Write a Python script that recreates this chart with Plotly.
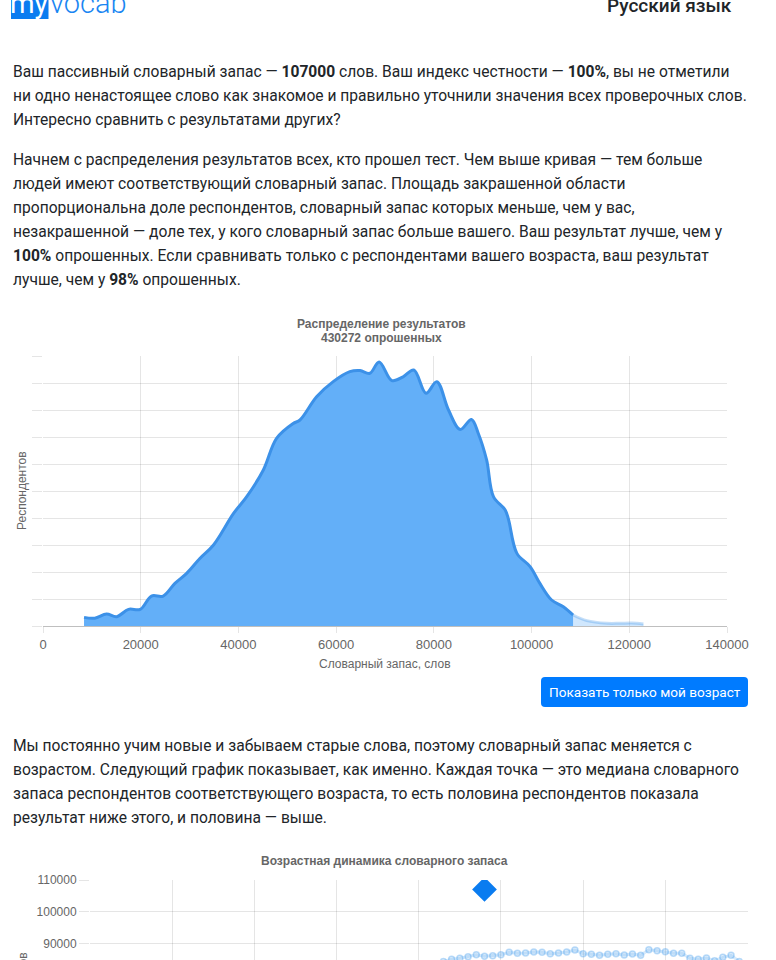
import plotly.graph_objects as go

W, H = 776, 960


def X(px):
    return px / W


def Y(py):
    return 1 - py / H


# ---------------- data ----------------
# Distribution of results (vocabulary size -> respondents, arbitrary units)
vocab_words = [8400, 10600, 13000, 15100, 17500, 19900, 22200, 24600, 27000, 29400,
               32100, 34900, 39000, 41700, 45100, 47800, 51200, 52600, 56000, 59400,
               62800, 64900, 66900, 68800, 71400, 73700, 75900, 78400, 80600, 83000,
               85400, 87700, 89100, 90800, 92200, 94600, 95300, 97000, 99700, 101700,
               104100, 106500, 108500, 111300, 115400, 118100, 120500, 122900]
respondents = [320, 290, 440, 345, 617, 617, 1110, 1110, 1580, 1950,
               2500, 3000, 4170, 4790, 5780, 6950, 7500, 7630, 8490, 9050,
               9420, 9460, 9360, 9780, 9090, 9230, 9480, 8620, 9050, 8000,
               7280, 7650, 7130, 6150, 4790, 4300, 3930, 2690, 2200, 1580,
               963, 715, 407, 200, 100, 100, 110, 75]
shade_limit = 108500
dist_xticks = [0, 20000, 40000, 60000, 80000, 100000, 120000, 140000]

# Age dynamics (age -> median vocabulary)
ages = [43, 44, 45, 46, 47, 48, 49, 50, 51, 52, 53, 54, 55, 56, 57, 58, 59, 60, 61,
        62, 63, 64, 65, 66, 67, 68, 69, 70, 71, 72, 73, 74, 75, 76, 77, 78, 79]
median_vocab = [84300, 84960, 85280, 85780, 86410, 85910, 86100, 86410, 87170, 86860,
                86950, 87270, 87170, 86730, 86950, 87270, 87900, 86730, 86540,
                86220, 86540, 86730, 86320, 86640, 86220, 87990, 87680, 87360, 86860,
                86860, 85280, 84960, 85370, 84520, 85590, 86220, 84300]
user_age = [48]
user_vocab = [107000]
age_yticks = [90000, 100000, 110000]

# ---------------- text ----------------
BODY_FONT = "Roboto"
CHART_FONT = "Liberation Sans"
TXT = "#212529"
GREY = "#666666"

p1 = [
    "Ваш пассивный словарный запас — <b>107000</b> слов. Ваш индекс честности — <b>100%</b>, вы не отметили",
    "ни одно ненастоящее слово как знакомое и правильно уточнили значения всех проверочных слов.",
    "Интересно сравнить с результатами других?",
]
p2 = [
    "Начнем с распределения результатов всех, кто прошел тест. Чем выше кривая — тем больше",
    "людей имеют соответствующий словарный запас. Площадь закрашенной области",
    "пропорциональна доле респондентов, словарный запас которых меньше, чем у вас,",
    "незакрашенной — доле тех, у кого словарный запас больше вашего. Ваш результат лучше, чем у",
    "<b>100%</b> опрошенных. Если сравнивать только с респондентами вашего возраста, ваш результат",
    "лучше, чем у <b>98%</b> опрошенных.",
]
p3 = [
    "Мы постоянно учим новые и забываем старые слова, поэтому словарный запас меняется с",
    "возрастом. Следующий график показывает, как именно. Каждая точка — это медиана словарного",
    "запаса респондентов соответствующего возраста, то есть половина респондентов показала",
    "результат ниже этого, и половина — выше.",
]

fig = go.Figure()

# ---------------- chart 1 ----------------
dark_x = [v for v in vocab_words if v <= shade_limit]
dark_y = [r for v, r in zip(vocab_words, respondents) if v <= shade_limit]
light_x = [v for v in vocab_words if v >= shade_limit]
light_y = [r for v, r in zip(vocab_words, respondents) if v >= shade_limit]

fig.add_trace(go.Scatter(
    x=light_x, y=light_y, mode="lines", fill="tozeroy",
    line=dict(color="rgba(60,145,232,0.3)", width=3, shape="spline", smoothing=1),
    fillcolor="rgba(99,175,248,0.3)", xaxis="x", yaxis="y", hoverinfo="skip"))
fig.add_trace(go.Scatter(
    x=dark_x, y=dark_y, mode="lines", fill="tozeroy",
    line=dict(color="rgb(60,145,232)", width=3, shape="spline", smoothing=1),
    fillcolor="rgb(99,175,248)", xaxis="x", yaxis="y", hoverinfo="skip"))

# ---------------- chart 2 ----------------
fig.add_trace(go.Scatter(
    x=ages, y=median_vocab, mode="lines+markers",
    line=dict(color="rgba(54,150,235,0.2)", width=3),
    marker=dict(size=6, color="rgba(54,150,235,0.15)",
                line=dict(color="rgba(54,150,235,0.32)", width=1.5)),
    xaxis="x2", yaxis="y2", hoverinfo="skip"))
fig.add_trace(go.Scatter(
    x=user_age, y=user_vocab, mode="markers",
    marker=dict(symbol="diamond", size=19, color="#0a7cf0"),
    xaxis="x2", yaxis="y2", hoverinfo="skip"))

grid = "rgba(0,0,0,0.1)"

fig.update_layout(
    template="none",
    width=W, height=H,
    margin=dict(l=0, r=0, t=0, b=0, pad=0, autoexpand=False),
    paper_bgcolor="white", plot_bgcolor="white",
    showlegend=False,
    xaxis=dict(domain=[X(43), X(727)], range=[0, 140000], tickvals=dist_xticks,
               ticktext=[str(t) for t in dist_xticks],
               showgrid=True, gridcolor=grid, gridwidth=1, zeroline=False,
               showline=True, linecolor="rgba(0,0,0,0.25)", linewidth=1,
               ticks="outside", ticklen=6, tickcolor=grid,
               tickfont=dict(family=CHART_FONT, size=13, color=GREY),
               anchor="y", fixedrange=True, automargin=False),
    yaxis=dict(domain=[Y(626), Y(356)], range=[0, 10000], dtick=1000,
               showgrid=True, gridcolor=grid, zeroline=False, showticklabels=False,
               ticks="outside", ticklen=10, tickcolor=grid,
               anchor="x", fixedrange=True, automargin=False),
    xaxis2=dict(domain=[X(90), X(747.5)], range=[0, 80], dtick=10,
                showgrid=True, gridcolor=grid, zeroline=False, showticklabels=False,
                ticks="", anchor="y2", fixedrange=True, automargin=False),
    yaxis2=dict(domain=[0, Y(880)], range=[84740, 110000], tickvals=age_yticks,
                ticktext=[str(t) for t in age_yticks],
                showgrid=True, gridcolor=grid, zeroline=False,
                ticks="outside", ticklen=10, tickcolor=grid,
                tickfont=dict(family=CHART_FONT, size=12, color=GREY),
                anchor="x2", fixedrange=True, automargin=False),
)

ann = []
shapes = []


def line(text, px_x, px_y, size=15.6, color=TXT, family=BODY_FONT, xanchor="left", weight=None, angle=0):
    f = dict(family=family, size=size, color=color)
    if weight is not None:
        f["weight"] = weight
    ann.append(dict(text=text, x=X(px_x), y=Y(px_y), xref="paper", yref="paper",
                    xanchor=xanchor, yanchor="middle", showarrow=False, font=f,
                    textangle=angle))


# header
shapes.append(dict(type="rect", xref="paper", yref="paper",
                   x0=X(11), x1=X(48.5), y0=Y(19), y1=Y(-10),
                   fillcolor="#0a7cf0", line=dict(width=0), layer="below"))
line("my", 29.5, 3, size=28, color="white", xanchor="center", weight=400)
line("vocab", 47.5, 3, size=29, color="#1a86f2", weight=300)
line("Русский язык", 734, 6, size=19, color=TXT, xanchor="right", weight=500)

for i, t in enumerate(p1):
    line(t, 11, 72 + 24 * i)
for i, t in enumerate(p2):
    line(t, 11, 160 + 24 * i)
for i, t in enumerate(p3):
    line(t, 11, 746 + 24 * i)

# chart 1 titles
line("<b>Распределение результатов</b>", 381, 324, size=12, color=GREY, family=CHART_FONT, xanchor="center")
line("<b>430272 опрошенных</b>", 381, 338, size=12, color=GREY, family=CHART_FONT, xanchor="center")
line("Словарный запас, слов", 385, 664, size=12, color=GREY, family=CHART_FONT, xanchor="center")
line("Респондентов", 22, 491, size=12, color=GREY, family=CHART_FONT, xanchor="center", angle=-90)

# chart 2 titles
line("<b>Возрастная динамика словарного запаса</b>", 384, 861, size=12, color=GREY, family=CHART_FONT, xanchor="center")
line("Словарный запас, слов", 23, 1018, size=12, color=GREY, family=CHART_FONT, xanchor="center", angle=-90)

# button
bx0, bx1, by0, by1, r = 541, 748, 677, 707, 4
path = (f"M {X(bx0 + r)},{Y(by0)} L {X(bx1 - r)},{Y(by0)} Q {X(bx1)},{Y(by0)} {X(bx1)},{Y(by0 + r)} "
        f"L {X(bx1)},{Y(by1 - r)} Q {X(bx1)},{Y(by1)} {X(bx1 - r)},{Y(by1)} "
        f"L {X(bx0 + r)},{Y(by1)} Q {X(bx0)},{Y(by1)} {X(bx0)},{Y(by1 - r)} "
        f"L {X(bx0)},{Y(by0 + r)} Q {X(bx0)},{Y(by0)} {X(bx0 + r)},{Y(by0)} Z")
shapes.append(dict(type="path", xref="paper", yref="paper", path=path,
                   fillcolor="#007bff", line=dict(width=0), layer="below"))
line("Показать только мой возраст", (bx0 + bx1) / 2, 692, size=13.6, color="white", xanchor="center")

fig.update_layout(annotations=ann, shapes=shapes)

fig.write_html("out.html", config={"displayModeBar": False},
               post_script="document.body.style.margin='0';")
